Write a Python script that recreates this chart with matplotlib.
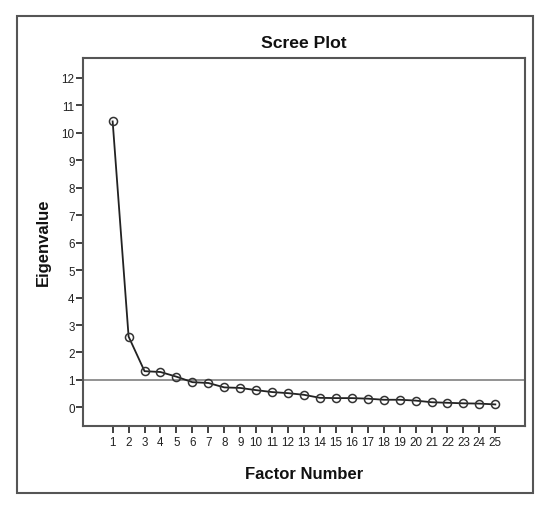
import matplotlib
matplotlib.use("Agg")
import matplotlib.pyplot as plt
from matplotlib.patches import Rectangle

plt.rcParams['font.family'] = ['Liberation Sans', 'DejaVu Sans']

factors = list(range(1, 26))
eigenvalues = [10.41, 2.58, 1.32, 1.29, 1.12, 0.92, 0.89, 0.73, 0.71, 0.63,
               0.56, 0.52, 0.46, 0.35, 0.34, 0.34, 0.32, 0.28, 0.28, 0.25,
               0.19, 0.17, 0.15, 0.14, 0.11]
y_ticks = list(range(0, 13))
reference_value = 1.0

fig = plt.figure(figsize=(5.5, 5.1), dpi=100)
fig.patch.set_facecolor('white')

# outer frame
fig.patches.append(Rectangle((0.0304, 0.0308), 0.9381, 0.9365, transform=fig.transFigure,
                             fill=False, edgecolor='#555555', linewidth=1.5))

ax = fig.add_axes([0.1509, 0.1633, 0.8036, 0.7216])
ax.plot(factors, eigenvalues, color='#222222', linewidth=1.3, marker='o',
        markersize=5.8, markerfacecolor='none', markeredgecolor='#333333',
        markeredgewidth=1.1, zorder=3)
ax.axhline(reference_value, color='#8a8a8a', linewidth=1.3, zorder=2)

ax.set_xlim(-0.86, 26.86)
ax.set_ylim(-0.665, 12.73)
ax.set_xticks(factors)
ax.set_yticks(y_ticks)

for s in ax.spines.values():
    s.set_color('#555555')
    s.set_linewidth(1.5)

ax.tick_params(axis='both', direction='out', length=5, width=1.3, color='#333333',
               labelsize=8.4, labelcolor='#222222')
ax.tick_params(axis='y', pad=1)
ax.tick_params(axis='x', pad=2.5)

ax.set_title('Scree Plot', fontsize=12.6, fontweight='bold', pad=7.5, color='#111111')
ax.set_xlabel('Factor Number', fontsize=12, fontweight='bold', color='#111111', va='center')
ax.xaxis.set_label_coords(0.5, -0.1285)
ax.set_ylabel('Eigenvalue', fontsize=12, fontweight='bold', color='#111111', va='center')
ax.yaxis.set_label_coords(-0.0905, 0.5)

fig.savefig('out.png', dpi=100)
